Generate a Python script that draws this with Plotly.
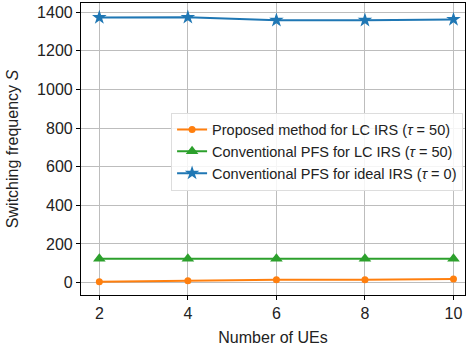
import plotly.graph_objects as go

ues = [2, 4, 6, 8, 10]
proposed_lc = [5, 10, 15, 15, 19]
pfs_lc = [123, 124, 124, 124, 124]
pfs_ideal = [1372, 1373, 1358, 1358, 1362]

fig = go.Figure()
fig.add_trace(go.Scatter(x=ues, y=proposed_lc, mode="lines+markers",
    name="Proposed method for LC IRS (<i>τ</i> = 50)",
    line=dict(color="#ff7f0e", width=2), marker=dict(symbol="circle", size=7, color="#ff7f0e")))
fig.add_trace(go.Scatter(x=ues, y=pfs_lc, mode="lines+markers",
    name="Conventional PFS for LC IRS (<i>τ</i> = 50)",
    line=dict(color="#2ca02c", width=2), marker=dict(symbol="triangle-up", size=11, color="#2ca02c")))
fig.add_trace(go.Scatter(x=ues, y=pfs_ideal, mode="lines+markers",
    name="Conventional PFS for ideal IRS (<i>τ</i> = 0)",
    line=dict(color="#1f77b4", width=2), marker=dict(symbol="star", size=11, color="#1f77b4")))

axis_common = dict(showline=True, linecolor="black", linewidth=1.2, mirror=True,
                   ticks="outside", ticklen=4, tickcolor="black",
                   showgrid=True, gridcolor="#bdbdbd", gridwidth=1, zeroline=False,
                   automargin=False,
                   tickfont=dict(size=16, color="#222"))

fig.update_layout(
    width=474, height=346,
    margin=dict(l=81, r=9, t=3, b=51),
    paper_bgcolor="white", plot_bgcolor="white",
    font=dict(family="Liberation Sans, Arial, sans-serif", color="#222"),
    xaxis=dict(range=[1.586, 10.26], tickvals=ues,
               title=dict(text="Number of UEs", font=dict(size=16), standoff=14), **axis_common),
    yaxis=dict(range=[-64, 1447], tickvals=[0, 200, 400, 600, 800, 1000, 1200, 1400],
               title=dict(text="Switching frequency <i>S</i>", font=dict(size=16), standoff=14), **axis_common),
    legend=dict(x=0.995, y=0.625, xanchor="right", yanchor="top",
                bgcolor="rgba(255,255,255,0.85)", bordercolor="#dddddd", borderwidth=1,
                font=dict(size=14.5), tracegroupgap=0, itemwidth=30),
    showlegend=True,
)

fig.write_html("out.html")
